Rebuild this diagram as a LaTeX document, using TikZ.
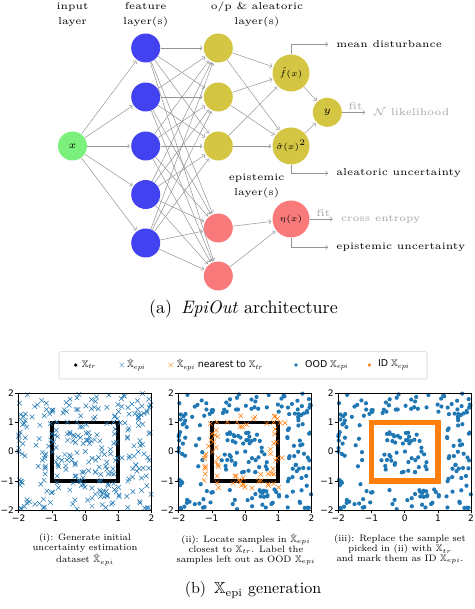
\documentclass[tikz,border=0pt]{standalone}
\usepackage{amssymb}
\usepackage{graphicx}
\usepackage{fontspec}
\newfontfamily\dejavu{DejaVu Sans}
\usetikzlibrary{arrows.meta}
\definecolor{cgreen}{RGB}{124,240,124}
\definecolor{cblue}{RGB}{66,66,240}
\definecolor{cyel}{RGB}{212,198,66}
\definecolor{cred}{RGB}{248,122,122}
\definecolor{cb}{RGB}{31,119,180}
\definecolor{co}{RGB}{255,127,14}
\newcommand\plotaxes[1]{%
  \draw[line width=0.7pt] (-2,-2) rectangle (2,2);
  \foreach \t/\l/\k in {-2/−2/a,-1/−1/b,0/0/c,1/1/d,2/2/e}{%
    \draw[line width=0.6pt] (\t,-2) -- ++(0,-3.5pt);
    \draw[line width=0.6pt] (-2,\t) -- ++(-3.5pt,0);
    \node[tick, anchor=north] (#1x\k) at ([yshift=-4.5pt]\t,-2) {\l};
    \node[tick, anchor=east] (#1y\k) at ([xshift=-4.5pt]-2,\t) {\l};
  }}
\newcommand\pointloop[1]{%
  \pgfmathsetseed{4711}%
  \foreach \i in {1,...,290}{%
    \pgfmathsetmacro\ppx{2*rand}%
    \pgfmathsetmacro\ppy{2*rand}%
    \pgfmathsetmacro\pax{abs(\ppx)}%
    \pgfmathsetmacro\pay{abs(\ppy)}%
    \pgfmathsetmacro\pdd{(\pax<1 && \pay<1) ? min(1-\pax,1-\pay) : sqrt(max(\pax-1,0)^2+max(\pay-1,0)^2)}%
    \pgfmathtruncatemacro\pnr{\pdd<0.26 ? 1 : 0}%
    #1%
  }}
\newcommand\xmark[1]{\draw[line width=0.5pt,#1] (\ppx,\ppy) +(-2.3pt,-2.3pt) -- +(2.3pt,2.3pt) +(-2.3pt,2.3pt) -- +(2.3pt,-2.3pt);}
\newcommand\dotmark[1]{\fill[#1] (\ppx,\ppy) circle[radius=2.1pt];}
\begin{document}
\begin{tikzpicture}[x=1pt,y=-1pt,
  neuron/.style={circle, inner sep=0pt, minimum size=14.5pt, scale=2, font=\tiny},
  bigneuron/.style={minimum size=18.5pt},
  lbl/.style={scale=2, font=\fontsize{5}{7.5}\selectfont, inner sep=2pt, align=center},
  grey/.style={text=black!35},
  edge/.style={draw=black!42, line width=0.5pt, -{To[length=2.6pt,width=5pt]}, shorten >=1pt},
  tick/.style={inner sep=0pt, font=\dejavu\fontsize{9}{10}\selectfont},
  legtxt/.style={anchor=west, inner sep=0pt, font=\dejavu\fontsize{9.4}{10}\selectfont},
  sub/.style={scale=1.33, font=\fontsize{7}{7.5}\selectfont, align=center, inner sep=0pt}]
\fill[white] (0,0) rectangle (474,609);
\useasboundingbox (0,0) rectangle (474,609);
% ---------------- network ----------------
\node[neuron, fill=cgreen] (in) at (72.5,146) {$x$};
\foreach \i/\y in {1/48,2/97,3/146,4/194.5,5/243}
  \node[neuron, fill=cblue] (f\i) at (145.7,\y) {};
\foreach \i/\y in {1/48,2/97,3/146}
  \node[neuron, fill=cyel] (o\i) at (218.3,\y) {};
\foreach \i/\y in {4/228,5/276}
  \node[neuron, fill=cred] (o\i) at (218.3,\y) {};
\node[neuron, bigneuron, fill=cyel] (fh) at (291,73) {\scalebox{0.85}{$\hat{f}(x)$}};
\node[neuron, bigneuron, fill=cyel] (sg) at (291,146) {\scalebox{0.85}{$\hat{\sigma}(x)^2$}};
\node[neuron, fill=cyel] (yy) at (327.3,112.3) {$y$};
\node[neuron, bigneuron, fill=cred] (et) at (291,219) {\scalebox{0.85}{$\eta(x)$}};
\foreach \i in {1,...,5} \draw[edge] (in) -- (f\i);
\foreach \i in {1,...,5} \foreach \j in {1,...,5} \draw[edge] (f\i) -- (o\j);
\foreach \j in {1,2,3} {\draw[edge] (o\j) -- (fh); \draw[edge] (o\j) -- (sg);}
\foreach \j in {4,5} \draw[edge] (o\j) -- (et);
\draw[edge] (fh) -- (yy);
\draw[edge] (sg) -- (yy);
% headers
\node[lbl] (h1) at (72.5,14.5) {input\\layer};
\node[lbl] (h2) at (145.7,14.5) {feature\\layer(s)};
\node[lbl] (h3) at (257,14.5) {o/p \& aleatoric\\layer(s)};
\node[lbl] (h4) at (256.7,186) {epistemic\\layer(s)};
% outputs
\node[lbl, anchor=west] (md) at (332,44.3) {mean disturbance};
\draw[edge, shorten >=4pt] (fh.north) |- (md.west);
\node[lbl, anchor=west, grey] (lk) at (369,112.3) {$\mathcal{N}$ likelihood};
\draw[edge, shorten >=4pt] (yy) -- node[lbl, grey, above, inner sep=1pt] (fit1) {fit} (lk.west);
\node[lbl, anchor=west] (au) at (332,173.3) {aleatoric uncertainty};
\draw[edge, shorten >=4pt] (sg.south) |- (au.west);
\node[lbl, anchor=west, grey] (ce) at (336.7,219) {cross entropy};
\draw[edge, shorten >=4pt] (et) -- node[lbl, grey, above, inner sep=1pt] (fit2) {fit} (ce.west);
\node[lbl, anchor=west] (eu) at (332,247.3) {epistemic uncertainty};
\draw[edge, shorten >=4pt] (et.south) |- (eu.west);
\node[scale=1.8, font=\normalsize, inner sep=0pt] (capa) at (243.4,309) {(a)\enspace\textit{EpiOut} architecture};
% ---------------- legend ----------------
\node[draw=black!18, fill=white, rounded corners=2pt, line width=0.6pt, minimum width=368pt, minimum height=27.3pt, inner sep=0pt] (leg) at (243,365.3) {};
\fill (75.7,365) circle[radius=1.8pt];
\node[legtxt] (l1) at (81.7,365) {$\mathbb{X}_{tr}$};
\draw[cb!60, line width=0.5pt] (121.7,365) +(-2.2pt,-2.2pt) -- +(2.2pt,2.2pt) +(-2.2pt,2.2pt) -- +(2.2pt,-2.2pt);
\node[legtxt] (l2) at (127,365) {$\hat{\mathbb{X}}_{epi}$};
\draw[co!70, line width=0.5pt] (170.7,365) +(-2.2pt,-2.2pt) -- +(2.2pt,2.2pt) +(-2.2pt,2.2pt) -- +(2.2pt,-2.2pt);
\node[legtxt] (l3) at (176.7,365) {$\hat{\mathbb{X}}_{epi}$ nearest to $\mathbb{X}_{tr}$};
\fill[cb] (296,365) circle[radius=1.8pt];
\node[legtxt] (l4) at (305,365) {OOD $\mathbb{X}_{epi}$};
\fill[co] (369.3,365) circle[radius=1.8pt];
\node[legtxt] (l5) at (378,365) {ID $\mathbb{X}_{epi}$};
% ---------------- panel 1 ----------------
\begin{scope}[shift={(85,451.65)}, x=33.2pt, y=29.17pt]
  \draw[black, line width=3.8pt] (-1,-1) rectangle (1,1);
  \pointloop{\xmark{cb}}
  \plotaxes{pa}
\end{scope}
% ---------------- panel 2 ----------------
\begin{scope}[shift={(245,451.65)}, x=33.2pt, y=29.17pt]
  \draw[black, line width=3.8pt] (-1,-1) rectangle (1,1);
  \pointloop{\ifnum\pnr=1 \xmark{co}\else \dotmark{cb}\fi}
  \plotaxes{pb}
\end{scope}
% ---------------- panel 3 ----------------
\begin{scope}[shift={(404.7,451.65)}, x=33.2pt, y=29.17pt]
  \pointloop{\ifnum\pnr=0 \dotmark{cb}\fi}
  \draw[co, line width=5.5pt] (-1,-1) rectangle (1,1);
  \plotaxes{pc}
\end{scope}
% ---------------- captions ----------------
\node[sub] (s1) at (85,549.5) {(i): Generate initial\\uncertainty estimation\\dataset $\hat{\mathbb{X}}_{epi}$};
\node[sub] (s2) at (246,549.5) {(ii): Locate samples in $\hat{\mathbb{X}}_{epi}$\\closest to $\mathbb{X}_{tr}$. Label the\\samples left out as OOD $\mathbb{X}_{epi}$};
\node[sub] (s3) at (400,549.5) {(iii): Replace the sample set\\picked in (ii) with $\mathbb{X}_{tr}$\\and mark them as ID $\mathbb{X}_{epi}$.};
\node[scale=1.6, font=\normalsize, inner sep=0pt] (capb) at (253,590) {(b)\enspace$\mathbb{X}_{\mathrm{epi}}$ generation};
\end{tikzpicture}
\end{document}
